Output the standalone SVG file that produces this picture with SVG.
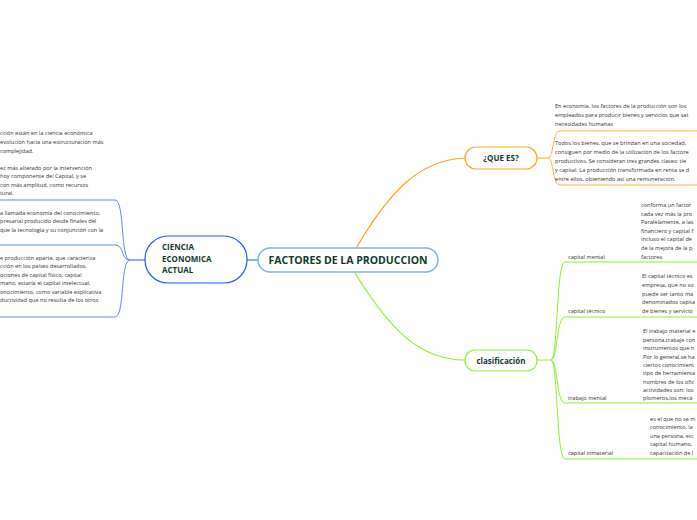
<svg xmlns="http://www.w3.org/2000/svg" width="697" height="520" viewBox="0 0 697 520">
<style>
.t{font-family:"Open Sans","Liberation Sans",sans-serif;font-size:5.6px;fill:#333}
.n{font-family:"Open Sans","Liberation Sans",sans-serif;font-weight:bold;fill:#0f3b2e}
.c{fill:none}
</style>
<rect width="697" height="520" fill="#fff"/>
<g id="connectors" class="c">
<path d="M355,250 C390,190 420,160 465,158" stroke="#ffa41c" stroke-width="1.2"/>
<path d="M355,273 C390,330 420,360 465,360" stroke="#8af02e" stroke-width="1.2"/>
<path d="M258,260 L247,260" stroke="#1f5bf0" stroke-width="1"/>
<path d="M145,260 L130,260" stroke="#1f5bf0" stroke-width="1"/>
<path d="M130,260 C120,260 125,200 115,200 L0,200" stroke="#5f86f5" stroke-width="1"/>
<path d="M130,260 C120,260 125,245 115,245 L0,245" stroke="#5f86f5" stroke-width="1"/>
<path d="M130,260 C120,260 125,317 115,317 L0,317" stroke="#5f86f5" stroke-width="1"/>
<path d="M537,158 L548,158" stroke="#ffa41c" stroke-width="1"/>
<path d="M548,158 C554,158 552,131 560,131 L697,131" stroke="#ffb040" stroke-width="1"/>
<path d="M548,158 C554,158 552,185 560,185 L697,185" stroke="#ffb040" stroke-width="1"/>
<path d="M537,360 L551,360" stroke="#8af02e" stroke-width="1"/>
<path d="M551,360 C558,360 556,262 565,262 L697,262" stroke="#8af02e" stroke-width="1"/>
<path d="M551,360 C558,360 556,317 565,317 L697,317" stroke="#8af02e" stroke-width="1"/>
<path d="M551,360 C558,360 556,403 565,403 L697,403" stroke="#8af02e" stroke-width="1"/>
<path d="M551,360 C558,360 556,459 565,459 L697,459" stroke="#8af02e" stroke-width="1"/>
</g>
<g id="root">
<rect x="258" y="248" width="180" height="24" rx="12" fill="#fff" stroke="#7fb2e0" stroke-width="1.5"/>
<text x="348" y="264" class="n" font-size="10.5" text-anchor="middle">FACTORES DE LA PRODUCCION</text>
</g>
<g id="quees">
<rect x="465" y="147" width="72" height="22" rx="11" fill="#fff" stroke="#ffa41c" stroke-width="1.2"/>
<text x="501" y="161" class="n" font-size="8" text-anchor="middle">¿QUE ES?</text>
</g>
<g id="clasificacion">
<rect x="465" y="350" width="72" height="21" rx="10" fill="#fff" stroke="#8af02e" stroke-width="1.2"/>
<text x="501" y="364" class="n" font-size="8" text-anchor="middle">clasificación</text>
</g>
<g id="ciencia">
<rect x="145" y="236" width="102" height="47" rx="23" fill="#fff" stroke="#1f5bf0" stroke-width="1.2"/>
<text class="n" font-size="8"><tspan x="162" y="250">CIENCIA</tspan><tspan x="162" y="262">ECONOMICA</tspan><tspan x="162" y="273">ACTUAL</tspan></text>
</g>
<g id="left-topics" class="t">
<text><tspan x="0" y="135">cción están en la ciencia económica</tspan><tspan x="0" y="144">evolución hacia una estructuración más</tspan><tspan x="0" y="153">complejidad.</tspan></text>
<text><tspan x="0" y="170">ez más alterado por la intervención</tspan><tspan x="0" y="178">hoy componente del Capital, y se</tspan><tspan x="0" y="187">con más amplitud, como recursos</tspan><tspan x="0" y="195">tural.</tspan></text>
<text><tspan x="0" y="215">a llamada economía del conocimiento,</tspan><tspan x="0" y="223">presarial producido desde finales del</tspan><tspan x="0" y="232">que la tecnología y su conjunción con la</tspan></text>
<text><tspan x="0" y="260">e producción aparte, que caracteriza</tspan><tspan x="0" y="268">cción en los países desarrollados.</tspan><tspan x="0" y="277">ociones de capital físico, capital</tspan><tspan x="0" y="285">mano, estaría el capital intelectual,</tspan><tspan x="0" y="294">onocimiento, como variable explicativa</tspan><tspan x="0" y="302">ductividad que no resulta de los otros</tspan></text>
</g>
<g id="quees-topics" class="t">
<text><tspan x="555" y="108">En economía, los factores de la producción son los</tspan><tspan x="555" y="117">empleados para producir bienes y servicios que sat</tspan><tspan x="555" y="126">necesidades humanas</tspan></text>
<text><tspan x="555" y="145">Todos los bienes, que se brindan en una sociedad,</tspan><tspan x="555" y="154">consiguen por medio de la utilización de los factore</tspan><tspan x="555" y="163">productivos. Se consideran tres grandes clases: tie</tspan><tspan x="555" y="172">y capital. La producción transformada en renta se d</tspan><tspan x="555" y="181">entre ellos, obteniendo así una remuneración.</tspan></text>
</g>
<g id="clas-topics" class="t">
<text x="568" y="259">capital mental</text>
<text><tspan x="641" y="207">conforma un factor</tspan><tspan x="641" y="216">cada vez más la pro</tspan><tspan x="641" y="224">Paralelamente, a las</tspan><tspan x="641" y="233">financiero y capital f</tspan><tspan x="641" y="241">incluso el capital de</tspan><tspan x="641" y="250">de la mejora de la p</tspan><tspan x="641" y="259">factores</tspan></text>
<text x="568" y="313">capital técnico</text>
<text><tspan x="642" y="278">El capital técnico es</tspan><tspan x="642" y="287">empresa, que no so</tspan><tspan x="642" y="296">puede ser tanto ma</tspan><tspan x="642" y="304">denominados capita</tspan><tspan x="642" y="313">de bienes y servicio</tspan></text>
<text x="568" y="400">trabajo mental</text>
<text><tspan x="643" y="333">El trabajo material e</tspan><tspan x="643" y="342">persona,trabaje con</tspan><tspan x="643" y="350">instrumentos que n</tspan><tspan x="643" y="359">Por lo general,se ha</tspan><tspan x="643" y="367">ciertos conocimient</tspan><tspan x="643" y="375">tipo de herramienta</tspan><tspan x="643" y="384">nombres de los ofic</tspan><tspan x="643" y="392">actividades son: los</tspan><tspan x="643" y="400">plomeros,los mecá</tspan></text>
<text x="568" y="455">capital inmaterial</text>
<text><tspan x="650" y="421">es el que no se m</tspan><tspan x="650" y="429">conocimiento, la</tspan><tspan x="650" y="438">una persona, etc</tspan><tspan x="650" y="446">capital humano,</tspan><tspan x="650" y="455">capacitación de l</tspan></text>
</g>
</svg>
